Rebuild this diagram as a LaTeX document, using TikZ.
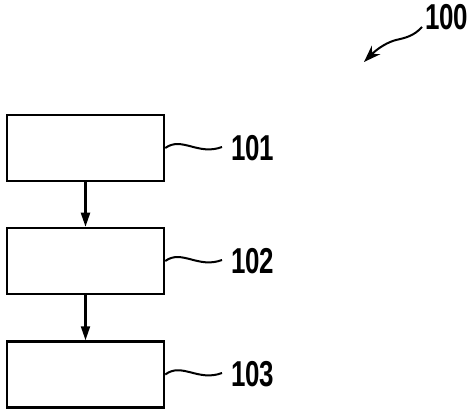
\documentclass[tikz,border=0pt]{standalone}
\usepackage{fontspec}
\setmainfont{Liberation Sans}
\usetikzlibrary{arrows.meta}
\begin{document}
\begin{tikzpicture}[x=1pt,y=-1pt,
  blk/.style={draw,line width=2.5pt,minimum width=157pt,minimum height=66pt,inner sep=0pt},
  flow/.style={line width=2.2pt,-{Triangle[length=14pt,width=9pt]}},
  lead/.style={line width=2pt},
  num/.style={font=\fontsize{36}{36}\selectfont\bfseries,xscale=0.72,inner sep=0pt,anchor=west}]
\useasboundingbox (0,0) rectangle (474,414);
\node[blk] (b1) at (85.5,148) {};
\node[blk] (b2) at (85.5,261) {};
\node[blk] (b3) at (85.5,374.5) {};
\draw[flow] (b1.south) -- (b2.north);
\draw[flow] (b2.south) -- (b3.north);
\node[num] (l1) at (231,148) {101};
\node[num] (l2) at (231,261) {102};
\node[num] (l3) at (231,374) {103};
\coordinate (e1) at (222,147);
\coordinate (e2) at (222,260);
\coordinate (e3) at (222,373);
\draw[lead] (b1.east) .. controls (182,136) and (198,156) .. (e1);
\draw[lead] (b2.east) .. controls (182,249) and (198,269) .. (e2);
\draw[lead] (b3.east) .. controls (182,362) and (198,382) .. (e3);
\node[num] (l0) at (425,17) {100};
\coordinate (s0) at (422,27);
\coordinate (m0) at (396,40);
\coordinate (t0) at (364,62);
\draw[lead,-{Stealth[length=17pt,width=12pt]}] (s0) .. controls (414,36) and (405,38) .. (m0) .. controls (388,42) and (378,48) .. (t0);
\end{tikzpicture}
\end{document}
